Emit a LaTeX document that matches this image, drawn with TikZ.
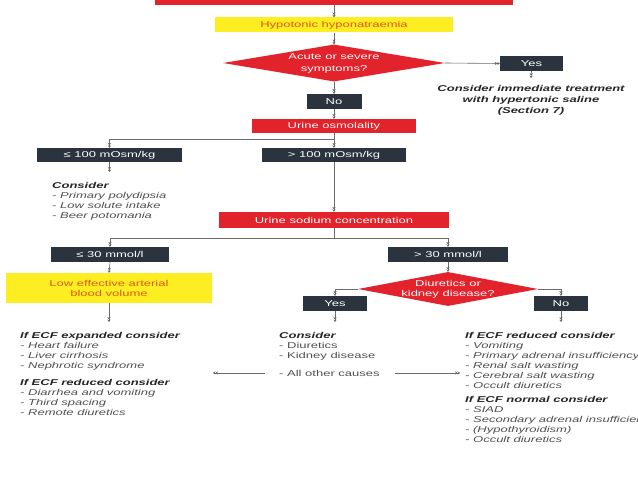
\documentclass[tikz,border=0pt]{standalone}
\usepackage{fontspec}
\setmainfont{Liberation Sans}[FakeStretch=1.53]
\usetikzlibrary{shapes.geometric,arrows.meta}
\definecolor{fred}{HTML}{E3232B}
\definecolor{fdark}{HTML}{2B333E}
\definecolor{fyel}{HTML}{FCEE21}
\definecolor{forange}{HTML}{DC5A1E}
\definecolor{fline}{HTML}{6A6A6A}
\definecolor{fhead}{HTML}{262626}
\definecolor{fitem}{HTML}{505050}
\newcommand\hdg[1]{{\color{fhead}\bfseries\itshape #1}}
\begin{document}
\begin{tikzpicture}[x=1pt,y=-1pt,
 every node/.style={inner sep=0pt, font=\fontsize{8.5}{10.2}\selectfont},
 dbox/.style={fill=fdark,text=white,minimum height=15pt},
 rbox/.style={fill=fred,text=white,minimum height=14pt},
 ybox/.style={fill=fyel,text=forange,align=center},
 dia/.style={diamond,fill=fred},
 wtxt/.style={text=white,align=center,font=\fontsize{8.5}{10}\selectfont},
 arr/.style={draw=fline,line width=0.6pt,-{Stealth[length=2.4pt,width=3.2pt]Stealth[length=2.4pt,width=3.2pt]}},
 ln/.style={draw=fline,line width=0.6pt},
 lst/.style={align=left,text=fitem,anchor=north west,font=\fontsize{8.5}{10}\selectfont\itshape},
 lstup/.style={align=left,text=fitem,anchor=north west,font=\fontsize{8.5}{10}\selectfont}
]
\fill[white] (0,0) rectangle (638,478);
\useasboundingbox (0,0) rectangle (638,478);

% main column
\node[rbox,minimum width=358pt,minimum height=16pt] (top) at (334,-3) {};
\node[ybox,minimum width=238pt,minimum height=15pt] (hypo) at (334,25) {Hypotonic hyponatraemia};
\node[dia,minimum width=222pt,minimum height=37pt] (d1) at (334,63) {};
\node[wtxt,font=\fontsize{8.5}{12}\selectfont] (d1t) at (d1) {Acute or severe\\symptoms?};
\node[dbox,minimum width=63pt] (yes1) at (531.5,63.5) {Yes};
\node[font=\fontsize{8.5}{11}\selectfont\bfseries\itshape,text=fhead,align=center,anchor=north] (t1) at (531,85.5)
  {Consider immediate treatment\\with hypertonic saline\\(Section 7)};
\node[dbox,minimum width=55pt] (no1) at (334,101.5) {No};
\node[rbox,minimum width=164pt] (uosm) at (334,126) {Urine osmolality};

\node[dbox,minimum width=145pt,minimum height=14pt] (le100) at (109.5,155) {≤ 100 mOsm/kg};
\node[dbox,minimum width=144pt,minimum height=14pt] (gt100) at (334,155) {> 100 mOsm/kg};
\node[lst] (t2) at (52,182) {\hdg{Consider}\\- Primary polydipsia\\- Low solute intake\\- Beer potomania};

\node[rbox,minimum width=230pt,minimum height=16pt] (usod) at (334,220) {Urine sodium concentration};

\node[dbox,minimum width=118pt] (le30) at (110,254.5) {≤ 30 mmol/l};
\node[dbox,minimum width=120pt] (gt30) at (448,254.5) {> 30 mmol/l};
\node[ybox,minimum width=206pt,minimum height=30pt,font=\fontsize{8.5}{10}\selectfont] (lev) at (109,288) {Low effective arterial\\blood volume};

\node[dia,minimum width=180pt,minimum height=34pt] (d2) at (448,289) {};
\node[wtxt] (d2t) at (d2) {Diuretics or\\kidney disease?};
\node[dbox,minimum width=64pt] (yes2) at (335,303.5) {Yes};
\node[dbox,minimum width=54pt] (no2) at (561,303.5) {No};

% text blocks
\node[lst] (lb1) at (20,332) {\hdg{If ECF expanded consider}\\- Heart failure\\- Liver cirrhosis\\- Nephrotic syndrome};
\node[lst] (lb2) at (20,379) {\hdg{If ECF reduced consider}\\- Diarrhea and vomiting\\- Third spacing\\- Remote diuretics};
\node[lstup] (m1) at (279,332) {\hdg{Consider}\\- Diuretics\\- Kidney disease};
\node[lstup,anchor=west] (m2) at (279,373) {- All other causes};
\node[lst] (rb1) at (465,332) {\hdg{If ECF reduced consider}\\- Vomiting\\- Primary adrenal insufficiency\\- Renal salt wasting\\- Cerebral salt wasting\\- Occult diuretics};
\node[lst] (rb2) at (465,396) {\hdg{If ECF normal consider}\\- SIAD\\- Secondary adrenal insufficiency\\- (Hypothyroidism)\\- Occult diuretics};

% coordinates
\coordinate (s1) at (334,139);
\coordinate (s2) at (334,238);
\coordinate (e1) at (531,78);
\coordinate (e2) at (109.5,172);
\coordinate (e3) at (109,322);
\coordinate (e4) at (335,322);
\coordinate (e5) at (561,322);
\coordinate (la) at (213,374);
\coordinate (ra) at (460,374);

% connectors
\draw[arr] (top.south) -- (hypo.north);
\draw[arr] (hypo.south) -- (d1.north);
\draw[arr] (d1.east) -- (yes1.west);
\draw[arr] (yes1.south) -- (e1);
\draw[arr] (d1.south) -- (no1.north);
\draw[arr] (no1.south) -- (uosm.north);
\draw[ln] (uosm.south) -- (s1);
\draw[arr] (s1) -- (gt100.north);
\draw[arr] (s1) -| (le100.north);
\draw[arr] (le100.south) -- (e2);
\draw[arr] (gt100.south) -- (usod.north);
\draw[ln] (usod.south) -- (s2);
\draw[arr] (s2) -| (le30.north);
\draw[arr] (s2) -| (gt30.north);
\draw[arr] (le30.south) -- (lev.north);
\draw[arr] (lev.south) -- (e3);
\draw[arr] (gt30.south) -- (d2.north);
\draw[arr] (d2.west) -| (yes2.north);
\draw[arr] (d2.east) -| (no2.north);
\draw[arr] (yes2.south) -- (e4);
\draw[arr] (no2.south) -- (e5);
\draw[arr] ([xshift=-14pt]m2.west) -- (m2.west -| la);
\draw[arr] ([xshift=15pt]m2.east) -- (m2.east -| ra);
\end{tikzpicture}
\end{document}
